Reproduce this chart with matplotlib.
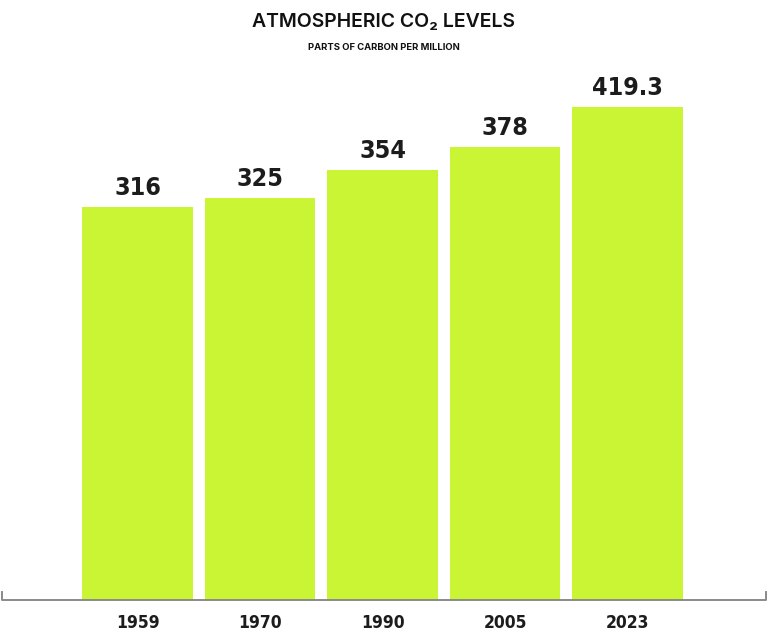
import numpy as np
import matplotlib.pyplot as plt

years = ["1959", "1970", "1990", "2005", "2023"]
co2_ppm = [316, 325, 354, 378, 419.3]
value_labels = ["316", "325", "354", "378", "419.3"]

BAR_COLOR = "#c9f535"
TEXT_COLOR = "#1c1c1c"
Y_FLOOR = -90  # bars are drawn from below zero, as in the source graphic

fig = plt.figure(figsize=(7.68, 6.38), dpi=100)
ax = fig.add_axes([2 / 768, 38 / 638, 764 / 768, 530 / 638])

x = np.arange(len(years))
vals = np.array(co2_ppm)
ax.bar(x, vals - Y_FLOOR, bottom=Y_FLOOR, width=0.9, color=BAR_COLOR, zorder=2)

for xi, v, lab in zip(x, vals, value_labels):
    ax.annotate(lab, (xi, v), xytext=(0, 5), textcoords="offset points",
                ha="center", va="bottom", fontsize=18, fontweight="bold",
                family="DejaVu Sans", fontstretch="condensed",
                color=TEXT_COLOR)

ax.set_xlim(-1.106, 5.13)
ax.set_ylim(Y_FLOOR, 457.5)

# baseline with small end ticks
ax.plot([0, 0, 1, 1], [0.016, 0, 0, 0.016], transform=ax.transAxes,
        color="#8a8a8a", lw=1.4, clip_on=False, zorder=3)

for s in ax.spines.values():
    s.set_visible(False)
ax.set_yticks([])
ax.set_xticks(x)
ax.set_xticklabels(years, fontsize=12.5, fontweight="bold",
                   family="DejaVu Sans", fontstretch="condensed",
                   color=TEXT_COLOR)
ax.tick_params(axis="x", length=0, pad=10)

fig.text(0.5, 1 - 22 / 638, "ATMOSPHERIC CO\u2082 LEVELS", ha="center", va="center",
         fontsize=14, fontweight="semibold", family=["Inter", "DejaVu Sans"],
         color="#111111")
fig.text(0.5, 1 - 47 / 638, "PARTS OF CARBON PER MILLION", ha="center", va="center",
         fontsize=6.8, fontweight="bold", family=["Inter", "DejaVu Sans"],
         color="#111111")

fig.savefig("out.png", dpi=100)
